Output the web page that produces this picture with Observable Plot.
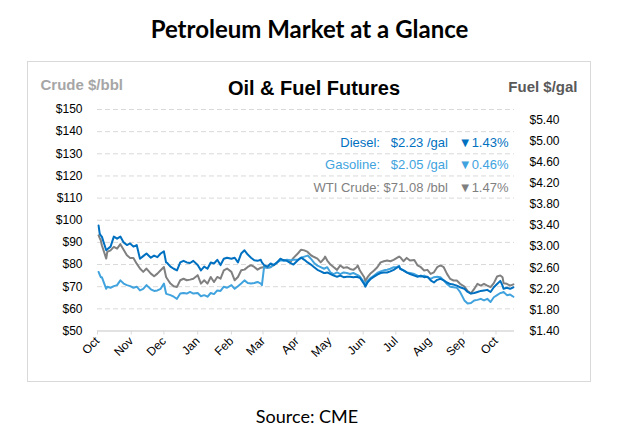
<!DOCTYPE html>
<html><head><meta charset="utf-8">
<script src="https://cdn.jsdelivr.net/npm/d3@7"></script>
<script src="https://cdn.jsdelivr.net/npm/@observablehq/plot@0.6"></script>
<style>
body{margin:0;background:#fff;}
#page{position:relative;width:619px;height:447px;background:#fff;}
#title{position:absolute;top:14px;left:0;width:619px;text-align:center;font:bold 24px Lato, sans-serif;color:#000;}
#box{position:absolute;left:27px;top:61px;width:562px;height:319px;border:1px solid #D9D9D9;}
#caption{position:absolute;top:405px;left:0;width:614px;text-align:center;font:18px Lato, sans-serif;color:#000;}
</style></head>
<body><div id="page"><div id="title">Petroleum Market at a Glance</div><div id="box"></div><div id="caption">Source: CME</div></div>
<script>
const dates = [
"2023-10-02","2023-10-03","2023-10-04","2023-10-05","2023-10-09","2023-10-10","2023-10-13","2023-10-16","2023-10-19","2023-10-22","2023-10-25","2023-10-28","2023-10-31",
"2023-11-03","2023-11-06","2023-11-09","2023-11-12","2023-11-15","2023-11-19","2023-11-22","2023-11-25","2023-11-28",
"2023-12-01","2023-12-03","2023-12-04","2023-12-07","2023-12-10","2023-12-13","2023-12-16","2023-12-19","2023-12-22","2023-12-25","2023-12-28",
"2024-01-01","2024-01-04","2024-01-07","2024-01-10","2024-01-13","2024-01-16","2024-01-19","2024-01-22","2024-01-25","2024-01-28",
"2024-02-01","2024-02-04","2024-02-07","2024-02-10","2024-02-13","2024-02-16","2024-02-19","2024-02-22","2024-02-25","2024-02-28","2024-02-29",
"2024-03-02","2024-03-05","2024-03-08","2024-03-11","2024-03-14","2024-03-17","2024-03-20","2024-03-23","2024-03-26","2024-03-29","2024-04-02",
"2024-04-05","2024-04-08","2024-04-11","2024-04-14","2024-04-17","2024-04-20","2024-04-23","2024-04-26","2024-04-27","2024-04-29",
"2024-05-02","2024-05-05","2024-05-08","2024-05-11","2024-05-14","2024-05-17","2024-05-20","2024-05-23","2024-05-26","2024-05-27","2024-05-29",
"2024-06-02","2024-06-03","2024-06-05","2024-06-08","2024-06-11","2024-06-14","2024-06-17","2024-06-20","2024-06-23","2024-06-26","2024-06-29",
"2024-07-02","2024-07-04","2024-07-05","2024-07-08","2024-07-11","2024-07-14","2024-07-18","2024-07-21","2024-07-24","2024-07-27","2024-07-30",
"2024-08-02","2024-08-05","2024-08-08","2024-08-11","2024-08-14","2024-08-17","2024-08-20","2024-08-23","2024-08-26","2024-08-29",
"2024-09-02","2024-09-05","2024-09-08","2024-09-11","2024-09-14","2024-09-17","2024-09-20","2024-09-23","2024-09-26","2024-09-29",
"2024-10-02","2024-10-05","2024-10-07","2024-10-08","2024-10-11","2024-10-14","2024-10-17"
];
// WTI crude, $/bbl
const crude = [
93.2,92.0,91.0,88.7,82.7,85.7,86.4,88.0,87.2,89.2,86.7,84.2,83.0,
83.0,80.4,78.2,76.7,78.2,75.9,74.7,75.9,77.4,
78.9,74.4,73.6,71.4,70.2,69.9,72.9,73.6,72.9,73.2,73.6,
75.2,71.4,72.9,71.4,74.4,72.1,74.4,73.6,77.4,78.2,
76.7,72.9,74.4,77.4,77.7,78.9,79.7,78.9,77.7,78.6,78.7,
78.9,78.6,78.9,79.7,81.0,82.2,82.0,82.0,81.0,83.0,85.0,
86.7,86.4,85.7,84.2,83.4,82.7,81.0,82.6,83.6,81.8,
80.0,78.8,77.6,79.6,78.5,78.8,78.0,77.6,78.8,79.6,77.3,
74.3,72.5,74.3,76.1,77.3,78.8,81.0,81.5,81.8,81.5,82.1,
83.0,83.6,83.3,81.5,83.0,81.8,82.1,79.6,78.8,77.3,77.6,
75.8,76.5,78.8,79.6,78.8,75.8,73.5,72.8,72.8,71.3,
70.1,68.0,67.0,69.0,71.3,70.5,71.3,70.5,69.8,71.6,
74.6,75.1,74.3,71.6,71.3,70.5,71.08
];
// Diesel (ULSD), $/gal
const diesel = [
3.40,3.25,3.21,3.19,2.93,2.95,3.00,3.19,3.15,3.19,3.08,3.03,3.06,
3.00,3.03,2.77,2.82,2.87,2.79,2.83,2.80,2.87,
2.91,2.70,2.69,2.62,2.58,2.55,2.70,2.73,2.70,2.69,2.73,
2.65,2.55,2.62,2.58,2.70,2.68,2.75,2.65,2.77,2.79,
2.77,2.79,2.70,2.87,2.93,2.85,2.79,2.74,2.73,2.75,2.70,
2.65,2.62,2.68,2.65,2.70,2.77,2.74,2.73,2.69,2.66,2.74,
2.79,2.75,2.70,2.66,2.61,2.56,2.53,2.50,2.50,2.51,
2.48,2.45,2.43,2.45,2.42,2.43,2.43,2.42,2.43,2.42,2.41,
2.29,2.24,2.32,2.39,2.43,2.47,2.50,2.51,2.51,2.53,2.56,
2.60,2.62,2.58,2.55,2.51,2.48,2.45,2.43,2.45,2.42,2.43,
2.36,2.32,2.37,2.39,2.36,2.32,2.29,2.28,2.26,2.23,
2.20,2.14,2.11,2.12,2.14,2.16,2.17,2.18,2.14,2.23,
2.29,2.35,2.26,2.20,2.22,2.20,2.23
];
// Gasoline (RBOB), $/gal
const gasoline = [
2.52,2.47,2.42,2.42,2.20,2.24,2.22,2.25,2.27,2.36,2.30,2.27,2.25,
2.22,2.24,2.17,2.20,2.27,2.19,2.16,2.17,2.20,
2.30,2.11,2.10,2.08,2.05,2.01,2.11,2.12,2.11,2.14,2.11,
2.12,2.06,2.08,2.05,2.12,2.10,2.17,2.16,2.24,2.22,
2.27,2.20,2.25,2.30,2.36,2.31,2.30,2.31,2.33,2.30,2.27,
2.61,2.60,2.61,2.66,2.70,2.74,2.73,2.75,2.74,2.75,2.75,
2.79,2.81,2.83,2.77,2.69,2.64,2.61,2.58,2.59,2.61,
2.51,2.48,2.51,2.48,2.51,2.50,2.48,2.50,2.47,2.46,2.43,
2.32,2.29,2.35,2.41,2.45,2.50,2.53,2.55,2.56,2.58,2.61,
2.61,2.64,2.58,2.55,2.51,2.50,2.48,2.45,2.43,2.45,2.42,
2.39,2.42,2.43,2.42,2.36,2.29,2.24,2.23,2.22,2.14,
1.98,1.92,1.93,1.98,1.99,2.01,1.98,2.01,1.95,2.04,
2.08,2.12,2.13,2.14,2.08,2.09,2.05
];
const crudeTicks = [50,60,70,80,90,100,110,120,130,140,150];
const fuelTicks = [1.40,1.80,2.20,2.60,3.00,3.40,3.80,4.20,4.60,5.00,5.40];
const monthTicks = ["2023-10-01","2023-11-01","2023-12-01","2024-01-01","2024-02-01","2024-03-01","2024-04-01","2024-05-01","2024-06-01","2024-07-01","2024-08-01","2024-09-01","2024-10-01"];
const xDomain = ["2023-10-01","2024-10-18"];
const sp = "\u00a0";
const legendLines = [
  "Diesel:" + sp + sp + " $2.23 /gal" + sp + sp + " \u25BC1.43%",
  "Gasoline:" + sp + sp + " $2.05 /gal" + sp + sp + " \u25BC0.46%",
  "WTI Crude: $71.08 /bbl" + sp + sp + " \u25BC1.47%"
];
const colors = {diesel:"#0070C0", gasoline:"#41A3DE", crude:"#808080"};

// secondary (fuel) axis mapped onto the crude scale: $1.40 <-> $50, $5.60 <-> $150
const fuelMin = 1.40, fuelMax = 5.60, crudeMin = 50, crudeMax = 150;
const toAxis = f => crudeMin + (f - fuelMin) * (crudeMax - crudeMin) / (fuelMax - fuelMin);
const toFuel = c => fuelMin + (c - crudeMin) * (fuelMax - fuelMin) / (crudeMax - crudeMin);

const rows = dates.map((d, i) => ({
  date: new Date(d), crude: crude[i], diesel: toAxis(diesel[i]), gasoline: toAxis(gasoline[i])
}));

const font = "'Liberation Sans', Arial, sans-serif";
const chart = Plot.plot({
  width: 562, height: 319,
  marginLeft: 69, marginRight: 76, marginTop: 47, marginBottom: 50.5,
  style: {fontFamily: font, fontSize: "12px", background: "#fff", color: "#000", overflow: "visible"},
  x: {type: "utc", domain: xDomain.map(d => new Date(d))},
  y: {domain: [crudeMin, crudeMax]},
  marks: [
    Plot.gridY({ticks: crudeTicks.slice(1), stroke: "#D9D9D9", strokeOpacity: 1, strokeDasharray: "5,3"}),
    Plot.ruleY([crudeMin], {stroke: "#D9D9D9", strokeWidth: 1.5}),
    Plot.axisY({ticks: crudeTicks, tickFormat: d => "$" + d, tickSize: 0, tickPadding: 15, fill: "#000", fontSize: 12}),
    Plot.axisY({anchor: "right", ticks: fuelTicks.map(toAxis), tickFormat: d => "$" + toFuel(d).toFixed(2), tickSize: 0, tickPadding: 15, fill: "#000", fontSize: 12}),
    Plot.axisX({ticks: monthTicks.map(d => new Date(d)), tickFormat: d3.utcFormat("%b"), tickRotate: -45, tickSize: 4, stroke: "#D9D9D9", fill: "#000", fontSize: 12, tickPadding: 4}),
    Plot.lineY(rows, {x: "date", y: "crude", stroke: colors.crude, strokeWidth: 2}),
    Plot.lineY(rows, {x: "date", y: "gasoline", stroke: colors.gasoline, strokeWidth: 2}),
    Plot.lineY(rows, {x: "date", y: "diesel", stroke: colors.diesel, strokeWidth: 2}),
    Plot.text(["Crude $/bbl"], {frameAnchor: "top-left", dx: -57, dy: -24, textAnchor: "start", lineAnchor: "middle", fill: "#A6A6A6", fontWeight: "bold", fontSize: 15}),
    Plot.text(["Oil & Fuel Futures"], {frameAnchor: "top", dx: 8, dy: -21, textAnchor: "middle", lineAnchor: "middle", fill: "#000", fontWeight: "bold", fontSize: 20}),
    Plot.text(["Fuel $/gal"], {frameAnchor: "top-right", dx: 63, dy: -22, textAnchor: "end", lineAnchor: "middle", fill: "#595959", fontWeight: "bold", fontSize: 15}),
    Plot.text([legendLines[0]], {frameAnchor: "top-right", dx: -6, dy: 33, textAnchor: "end", lineAnchor: "middle", fill: colors.diesel, fontSize: 13}),
    Plot.text([legendLines[1]], {frameAnchor: "top-right", dx: -6, dy: 55, textAnchor: "end", lineAnchor: "middle", fill: colors.gasoline, fontSize: 13}),
    Plot.text([legendLines[2]], {frameAnchor: "top-right", dx: -6, dy: 78, textAnchor: "end", lineAnchor: "middle", fill: "#7F7F7F", fontSize: 13})
  ]
});
document.getElementById("box").appendChild(chart);
</script>
</body></html>
